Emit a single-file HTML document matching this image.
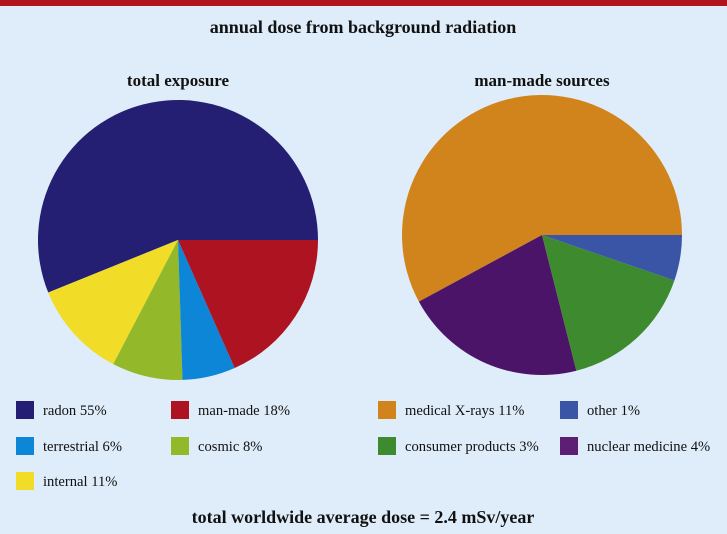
<!DOCTYPE html>
<html><head><meta charset="utf-8"><style>
body{margin:0;width:727px;height:534px;overflow:hidden;background:#dfecf9;font-family:"Liberation Serif",serif}
svg{display:block}
</style></head><body>
<svg id="c" width="727" height="534">
<rect x="0" y="0" width="727" height="6" fill="#b0151e"/>
<text x="363" y="33" text-anchor="middle" font-size="18" font-weight="bold" fill="#111">annual dose from background radiation</text>
<text x="178" y="86" text-anchor="middle" font-size="17" font-weight="bold" fill="#111">total exposure</text>
<text x="542" y="86" text-anchor="middle" font-size="17" font-weight="bold" fill="#111">man-made sources</text>
<g id="p1"></g>
<g id="p2"></g>
<g id="lg"></g>
<text x="363" y="523" text-anchor="middle" font-size="18" font-weight="bold" fill="#111">total worldwide average dose = 2.4 mSv/year</text>
</svg>
<script>
const leftLabels=["radon","internal","cosmic","terrestrial","man-made"];
const leftValues=[55,11,8,6,18];
const leftColors=["#241f73","#f1dc27","#93b82a","#0d86d8","#ad1320"];
const rightLabels=["medical X-rays","nuclear medicine","consumer products","other"];
const rightValues=[11,4,3,1];
const rightColors=["#d2841c","#4b1468","#3e8a2f","#3b55a6"];
const NS="http://www.w3.org/2000/svg";
function pie(g,vals,cols,labels,cx,cy,r){
  const tot=vals.reduce((a,b)=>a+b,0);let a=0;
  vals.forEach((v,i)=>{
    const a0=a,a1=a+v/tot*2*Math.PI;a=a1;
    const x0=cx+r*Math.cos(a0),y0=cy-r*Math.sin(a0),x1=cx+r*Math.cos(a1),y1=cy-r*Math.sin(a1);
    const large=(a1-a0)>Math.PI?1:0;
    const p=document.createElementNS(NS,"path");
    p.setAttribute("d",`M${cx},${cy}L${x0},${y0}A${r},${r} 0 ${large} 0 ${x1},${y1}Z`);
    p.setAttribute("fill",cols[i]);
    
    
    g.appendChild(p);
  });
}
pie(document.getElementById("p1"),leftValues,leftColors,leftLabels,178,240,140);
pie(document.getElementById("p2"),rightValues,rightColors,rightLabels,542,235,140);
const legendItems=[
 ["radon 55%","#241f73",16,410],["man-made 18%","#ad1320",171,410],["medical X-rays 11%","#d2841c",378,410],["other 1%","#3b55a6",560,410],
 ["terrestrial 6%","#0d86d8",16,446],["cosmic 8%","#93b82a",171,446],["consumer products 3%","#3e8a2f",378,446],["nuclear medicine 4%","#5c1f73",560,446],
 ["internal 11%","#f1dc27",16,481]];
const lg=document.getElementById("lg");
legendItems.forEach(it=>{
  const g=document.createElementNS(NS,"g");
  
  
  const r=document.createElementNS(NS,"rect");
  r.setAttribute("x",it[2]);r.setAttribute("y",it[3]-9);r.setAttribute("width",18);r.setAttribute("height",18);r.setAttribute("fill",it[1]);
  
  
  const t=document.createElementNS(NS,"text");
  t.setAttribute("x",it[2]+27);t.setAttribute("y",it[3]+5);t.setAttribute("font-size","14.6");t.setAttribute("fill","#111");
  t.textContent=it[0];
  
  
  g.appendChild(r);g.appendChild(t);lg.appendChild(g);
});
</script>
</body></html>
